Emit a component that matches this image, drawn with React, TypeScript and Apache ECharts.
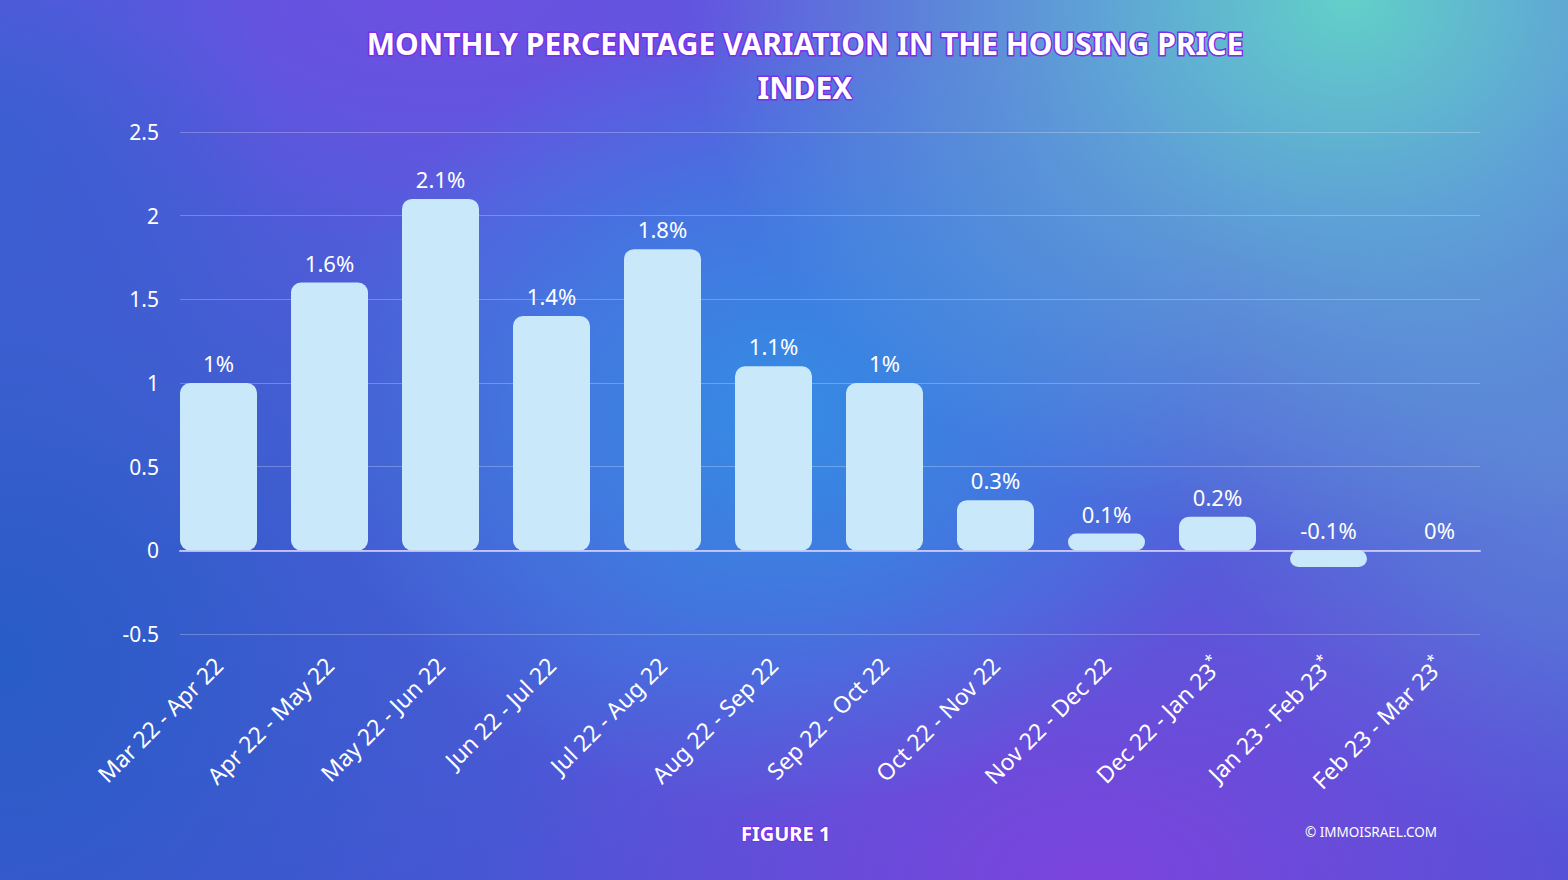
import React, { useEffect, useRef } from "react";
import * as echarts from "echarts";

const categories = [
  "Mar 22 - Apr 22",
  "Apr 22 - May 22",
  "May 22 - Jun 22",
  "Jun 22 - Jul 22",
  "Jul 22 - Aug 22",
  "Aug 22 - Sep 22",
  "Sep 22 - Oct 22",
  "Oct 22 - Nov 22",
  "Nov 22 - Dec 22",
  "Dec 22 - Jan 23*",
  "Jan 23 - Feb 23*",
  "Feb 23 - Mar 23*",
];
const values = [1, 1.6, 2.1, 1.4, 1.8, 1.1, 1, 0.3, 0.1, 0.2, -0.1, 0];
const yMin = -0.5;
const yMax = 2.5;
const yInterval = 0.5;
const titleLines = ["MONTHLY PERCENTAGE VARIATION IN THE HOUSING PRICE", "INDEX"];
const footerLeft = "FIGURE 1";
const footerRight = "© IMMOISRAEL.COM";

const FONT = "'Noto Sans', sans-serif";

export default function App() {
  const ref = useRef<HTMLDivElement>(null);
  useEffect(() => {
    document.body.style.margin = "0";
    if (!ref.current) return;
    const chart = echarts.init(ref.current, null, { renderer: "svg" });
    chart.setOption({
      animation: false,
      backgroundColor: "transparent",
      title: {
        text: titleLines.join("\n"),
        left: 800,
        top: 16,
        textAlign: "center",
        textStyle: {
          color: "#ffffff",
          fontFamily: FONT,
          fontWeight: "bold",
          fontSize: 30,
          lineHeight: 44,
          textBorderColor: "#7a2fe8",
          textBorderWidth: 3,
        },
      },
      grid: [
        { left: 163, right: 73, top: 132, bottom: 246 },
        { left: 180, right: 88, top: 132, bottom: 246 },
      ],
      xAxis: [
        {
          type: "category",
          gridIndex: 0,
          data: categories,
          axisLine: { show: false },
          axisTick: { show: false },
          axisLabel: {
            rotate: 45,
            interval: 0,
            margin: 27,
            color: "#ffffff",
            fontFamily: FONT,
            fontSize: 23,
            formatter: (v: string) =>
              v.endsWith("*") ? v.slice(0, -1) + "{s|*}" : v,
            rich: {
              s: {
                fontSize: 15,
                color: "#ffffff",
                fontFamily: FONT,
                verticalAlign: "top",
                padding: [0, 0, 14, 0],
              },
            },
          },
        },
        {
          type: "category",
          gridIndex: 1,
          data: categories,
          axisLine: {
            show: true,
            onZero: true,
            lineStyle: { color: "rgba(225,215,255,0.75)", width: 2 },
          },
          axisTick: { show: false },
          axisLabel: { show: false },
        },
      ],
      yAxis: [
        {
          type: "value",
          gridIndex: 0,
          min: yMin,
          max: yMax,
          interval: yInterval,
          show: false,
          splitLine: { show: false },
        },
        {
          type: "value",
          gridIndex: 1,
          min: yMin,
          max: yMax,
          interval: yInterval,
          axisLine: { show: false },
          axisTick: { show: false },
          axisLabel: {
            color: "#ffffff",
            fontFamily: FONT,
            fontSize: 21,
            margin: 21,
          },
          splitLine: {
            show: true,
            lineStyle: { color: "rgba(255,255,255,0.25)", width: 1 },
          },
        },
      ],
      series: [
        {
          type: "bar",
          xAxisIndex: 0,
          yAxisIndex: 0,
          data: values,
          barWidth: 77,
          z: 3,
          itemStyle: {
            color: "#c9e8fa",
            borderRadius: 10,
          },
          label: {
            show: true,
            position: "top",
            distance: 9,
            color: "#ffffff",
            fontFamily: FONT,
            fontSize: 22,
            formatter: (p: any) => `${p.value}%`,
          },
        },
      ],
      graphic: [
        {
          type: "text",
          left: 740,
          top: 822,
          style: {
            text: footerLeft,
            fill: "#ffffff",
            font: `bold 20px ${FONT}`,
            stroke: "#7a2fe8",
            lineWidth: 2,
          },
        },
        {
          type: "text",
          left: 1305,
          top: 825,
          style: {
            text: footerRight,
            fill: "#ffffff",
            font: `13.5px ${FONT}`,
          },
        },
      ],
    });
    return () => chart.dispose();
  }, []);

  const bg = [
    "radial-gradient(ellipse 42% 62% at 86% 0%, rgba(98,208,200,1) 0%, rgba(96,185,212,0.75) 40%, rgba(96,160,215,0) 100%)",
    "radial-gradient(ellipse 30% 45% at 50% 47%, rgba(52,140,228,1) 0%, rgba(52,140,228,0.55) 50%, rgba(52,140,228,0) 100%)",
    "radial-gradient(ellipse 40% 75% at 0% 75%, rgba(40,92,198,1) 0%, rgba(40,92,198,0) 100%)",
    "radial-gradient(ellipse 18% 35% at 0% 15%, rgba(62,96,212,0.9) 0%, rgba(62,96,212,0) 100%)",
    "radial-gradient(ellipse 38% 42% at 70% 100%, rgba(124,68,220,1) 0%, rgba(124,68,220,0.45) 55%, rgba(124,68,220,0) 100%)",
    "radial-gradient(ellipse 30% 28% at 28% 0%, rgba(110,80,226,0.9) 0%, rgba(110,80,226,0) 100%)",
    "radial-gradient(ellipse 25% 40% at 100% 55%, rgba(95,135,215,0.8) 0%, rgba(95,135,215,0) 100%)",
    "linear-gradient(180deg, #5a57de 0%, #5460da 50%, #4d55d6 100%)",
  ].join(",");

  return (
    <div
      style={{
        position: "fixed",
        left: 0,
        top: 0,
        width: 1568,
        height: 880,
        background: bg,
      }}
    >
      <div ref={ref} style={{ width: 1568, height: 880 }} />
    </div>
  );
}
